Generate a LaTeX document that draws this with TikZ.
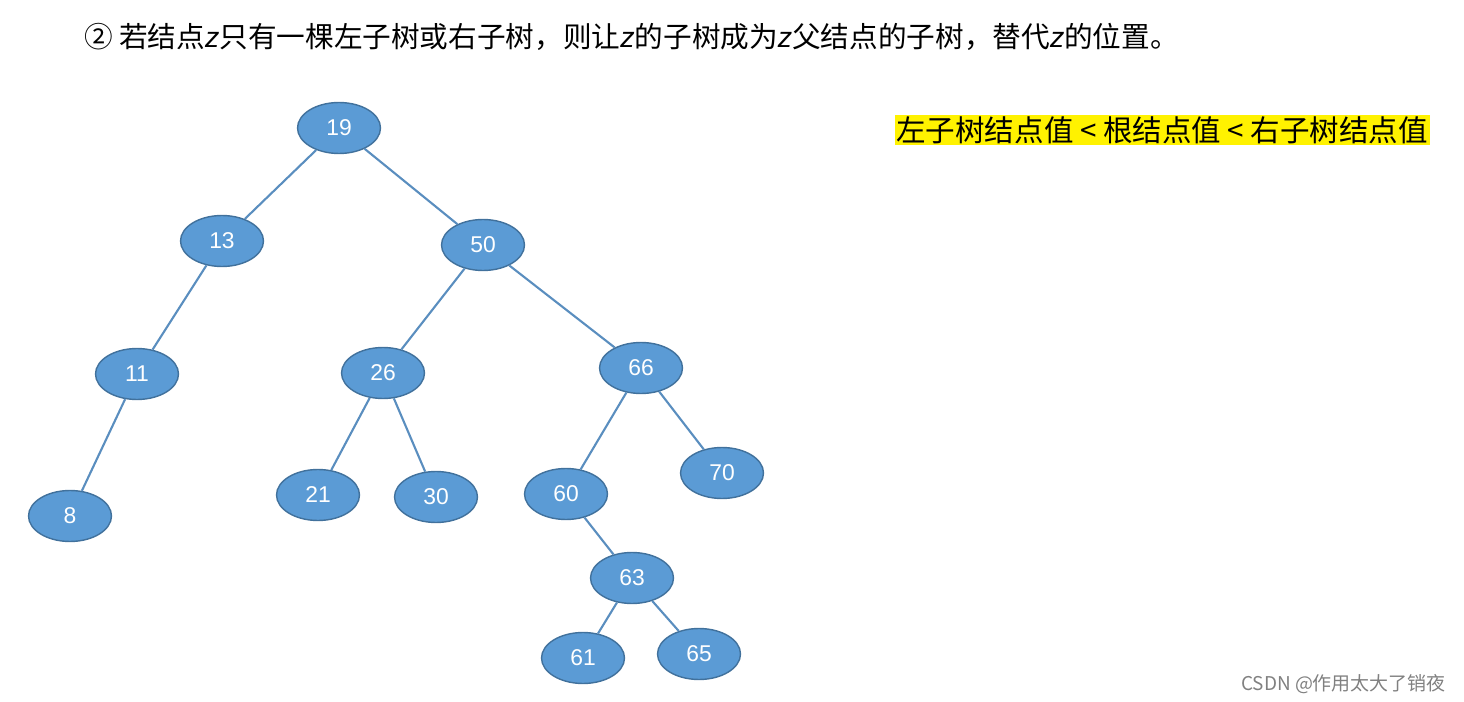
\documentclass[tikz,border=0pt]{standalone}
\usepackage{fontspec}
\setmainfont{Liberation Sans}
\newfontfamily\cjk{Noto Sans CJK SC}
\usetikzlibrary{shapes.geometric}
\definecolor{nodefill}{HTML}{5B9BD5}
\definecolor{nodeline}{HTML}{41719C}
\definecolor{edgecol}{HTML}{5A8EBF}
\newcommand{\zvar}{{\rmfamily\itshape z}}
\tikzset{
  treenode/.style={ellipse,draw=nodeline,fill=nodefill,line width=0.8pt,
    minimum width=1.66cm,minimum height=1.02cm,inner sep=0pt,
    text=white,font=\fontsize{13}{15}\selectfont},
  treeedge/.style={draw=edgecol,line width=1.2pt}
}
\begin{document}
\begin{tikzpicture}[x=0.02cm,y=-0.02cm]
\useasboundingbox (0,0) rectangle (1464,702);
% title
\node[anchor=west,font=\cjk\fontsize{16.3}{19}\selectfont] (title) at (78,37)
  {② 若结点\zvar 只有一棵左子树或右子树，则让\zvar 的子树成为\zvar 父结点的子树，替代\zvar 的位置。};
\node[anchor=east,fill=yellow,inner sep=1pt,font=\cjk\fontsize{16.8}{19}\selectfont] (rule) at (1430,130)
  {左子树结点值 < 根结点值 < 右子树结点值};
\node[anchor=east,text=gray,font=\cjk\fontsize{10.8}{13}\selectfont] (mark) at (1452,684) {CSDN @作用太大了销夜};
% nodes
\foreach \nm/\x/\y in {19/339/128,13/222/241,50/483/245,11/137/374,26/383/373,66/641/368,
  8/70/516,21/318/495,30/436/497,60/566/494,70/722/473,63/632/578,61/583/658,65/699/654}
  \node[treenode] (n\nm) at (\x,\y) {\nm};
% edges
\foreach \a/\b in {19/13,19/50,13/11,11/8,50/26,50/66,26/21,26/30,66/60,66/70,60/63,63/61,63/65}
  \draw[treeedge] (n\a) -- (n\b);
\end{tikzpicture}
\end{document}
